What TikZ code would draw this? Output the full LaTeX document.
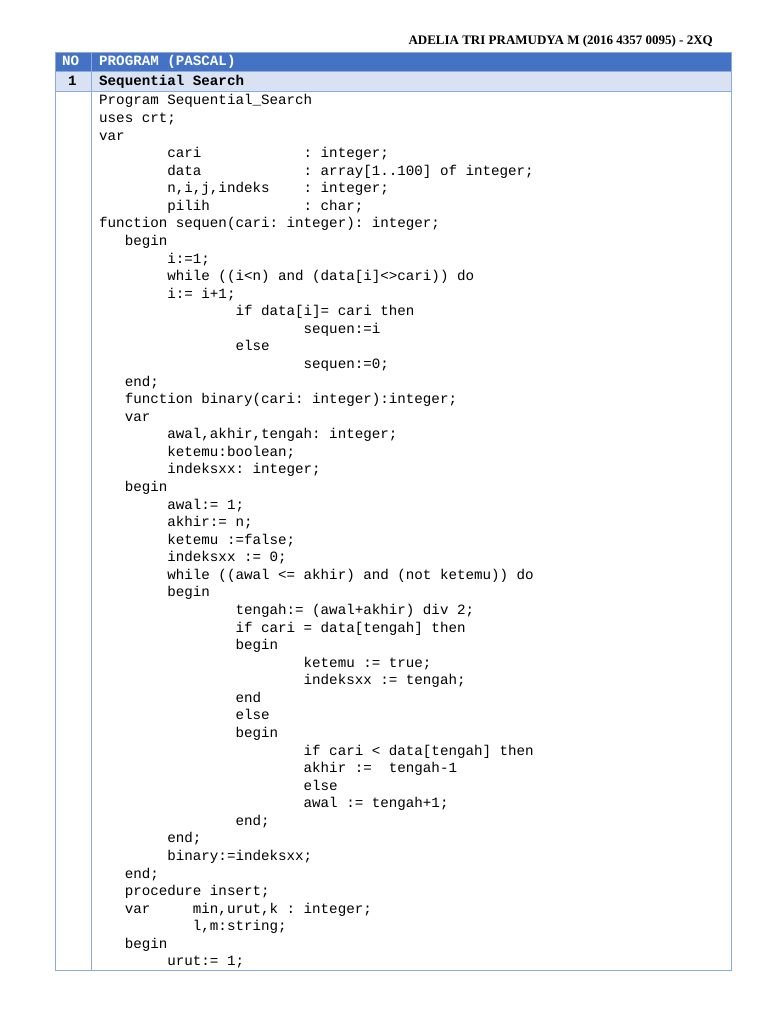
\documentclass[tikz,border=0pt]{standalone}
\usepackage{fontspec}
\setmainfont{Liberation Serif}
\setmonofont{Liberation Mono}
\definecolor{hdr}{HTML}{4472C4}
\definecolor{sub}{HTML}{D9E2F3}
\definecolor{bord}{HTML}{8EAADB}
\begin{document}
\begin{tikzpicture}[x=1pt,y=-1pt,
  code/.style={anchor=base west,inner sep=0pt,font=\fontsize{14.2}{16}\ttfamily},
  hd/.style={anchor=base west,inner sep=0pt,font=\fontsize{14.2}{16}\ttfamily\bfseries}]
\useasboundingbox (0,0) rectangle (768,1024);
\fill[hdr] (55,52) rectangle (731,71);
\fill[sub] (55,71) rectangle (731,91);
\draw[bord] (55,52) rectangle (731,970);
\draw[bord] (91,52) -- (91,970);
\draw[bord] (55,71) -- (731,71);
\draw[bord] (55,91) -- (731,91);
\node[anchor=base east,inner sep=0pt,font=\fontsize{13}{15}\selectfont\bfseries] (auth) at (713,45) {ADELIA TRI PRAMUDYA M (2016 4357 0095) - 2XQ};
\node[hd,text=white] (no) at (62,66) {NO};
\node[hd,text=white] (pg) at (99,66) {PROGRAM (PASCAL)};
\node[hd] (one) at (68,86) {1};
\node[hd] (ss) at (99,86) {Sequential Search};
\foreach \i/\c/\t in {
1/0/{Program Sequential\_Search},
2/0/{uses crt;},
3/0/{var},
4/8/{cari},
5/8/{data},
6/8/{n,i,j,indeks},
7/8/{pilih},
8/0/{function sequen(cari: integer): integer;},
9/3/{begin},
10/8/{i:=1;},
11/8/{while ((i<n) and (data[i]<>cari)) do},
12/8/{i:= i+1;},
13/16/{if data[i]= cari then},
14/24/{sequen:=i},
15/16/{else},
16/24/{sequen:=0;},
17/3/{end;},
18/3/{function binary(cari: integer):integer;},
19/3/{var},
20/8/{awal,akhir,tengah: integer;},
21/8/{ketemu:boolean;},
22/8/{indeksxx: integer;},
23/3/{begin},
24/8/{awal:= 1;},
25/8/{akhir:= n;},
26/8/{ketemu :=false;},
27/8/{indeksxx := 0;},
28/8/{while ((awal <= akhir) and (not ketemu)) do},
29/8/{begin},
30/16/{tengah:= (awal+akhir) div 2;},
31/16/{if cari = data[tengah] then},
32/16/{begin},
33/24/{ketemu := true;},
34/24/{indeksxx := tengah;},
35/16/{end},
36/16/{else},
37/16/{begin},
38/24/{if cari < data[tengah] then},
39/24/{akhir :=\ \ tengah-1},
40/24/{else},
41/24/{awal := tengah+1;},
42/16/{end;},
43/8/{end;},
44/8/{binary:=indeksxx;},
45/3/{end;},
46/3/{procedure insert;},
47/3/{var},
48/11/{l,m:string;},
49/3/{begin},
50/8/{urut:= 1;}}
  \node[code] (l\i) at ({99+\c*8.52},{105+(\i-1)*17.57}) {\t};
\foreach \i/\t in {4/{: integer;},5/{: array[1..100] of integer;},6/{: integer;},7/{: char;}}
  \node[code] (r\i) at ({99+24*8.52},{105+(\i-1)*17.57}) {\t};
\node[code] (m47) at ({99+11*8.52},{105+46*17.57}) {min,urut,k : integer;};
\end{tikzpicture}
\end{document}
